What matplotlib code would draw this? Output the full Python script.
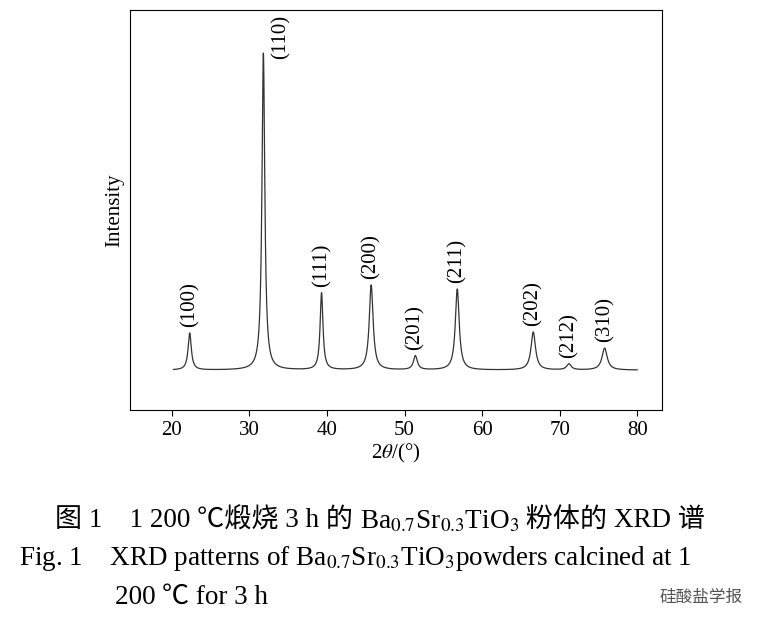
import numpy as np
import matplotlib
matplotlib.use("Agg")
import matplotlib.pyplot as plt

plt.rcParams['font.family'] = ['Liberation Serif', 'Noto Sans CJK SC', 'DejaVu Sans']
plt.rcParams['mathtext.fontset'] = 'stix'

peak_labels = ["(100)", "(110)", "(111)", "(200)", "(201)", "(211)", "(202)", "(212)", "(310)"]
peak_pos = [22.3, 31.8, 39.3, 45.7, 51.4, 56.8, 66.6, 71.2, 75.8]
peak_height = [37, 317, 77, 85, 14, 81, 38, 6, 22]
peak_width = [0.25, 0.22, 0.22, 0.3, 0.3, 0.3, 0.35, 0.35, 0.4]
baseline = 40

x = np.linspace(20.2, 80, 3000)
y = np.full_like(x, baseline, dtype=float)
for p, h, w in zip(peak_pos, peak_height, peak_width):
    y += h / (1 + ((x - p) / w) ** 2)

fig = plt.figure(figsize=(7.76, 6.3), dpi=100)
ax = fig.add_axes([0.1675, 0.349, 0.6856, 0.635])
ax.plot(x, y, color='#333333', lw=0.9)
ax.set_xlim(14.6, 83.2)
ax.set_ylim(0, 400)
ax.set_yticks([])
ax.set_xticks([20, 30, 40, 50, 60, 70, 80])
ax.tick_params(axis='x', labelsize=15, direction='out', length=4)
ax.set_xlabel(r'2$\theta$/(°)', fontsize=15, labelpad=2)
ax.set_ylabel('Intensity', fontsize=15)
for lab, p, h in zip(peak_labels, peak_pos, peak_height):
    yy = baseline + h + 6
    if lab == "(110)":
        ax.text(p + 2.3, 395, lab, rotation=90, ha='center', va='top', fontsize=15)
    else:
        ax.text(p, yy, lab, rotation=90, ha='center', va='bottom', fontsize=15)

renderer = fig.canvas.get_renderer()

def seq_text(x0, y0, pieces, fs=19.5):
    px = x0 * fig.bbox.width
    py = y0 * fig.bbox.height
    for s in pieces:
        t = fig.text(px / fig.bbox.width, py / fig.bbox.height, s, fontsize=fs,
                     ha='left', va='baseline')
        bb = t.get_window_extent(renderer)
        px += bb.width

seq_text(0.071, 0.162, ['图 1　1 200 ℃煅烧 3 h 的 ', 'Ba$_{0.7}$Sr$_{0.3}$TiO$_3$', ' 粉体的 XRD 谱'])
seq_text(0.025, 0.103, ['Fig. 1    XRD patterns of Ba$_{0.7}$Sr$_{0.3}$TiO$_3$powders calcined at 1'])
seq_text(0.148, 0.042, ['200 ', '℃', ' for 3 h'])
fig.text(0.85, 0.045, '硅酸盐学报', ha='left', fontsize=12, color='#555555',
         family=['Noto Sans CJK SC'])
fig.savefig('out.png', dpi=100)
